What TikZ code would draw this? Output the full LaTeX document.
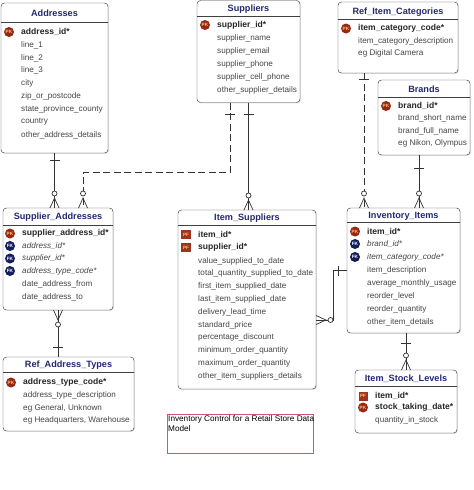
\documentclass[tikz,border=0pt]{standalone}
\usepackage{fontspec}
\setmainfont{Liberation Sans}
\usepackage{tikz}
\usetikzlibrary{calc,shadows}
\definecolor{titleblue}{RGB}{35,40,115}
\definecolor{attrgrey}{RGB}{70,70,70}
\definecolor{pkred}{RGB}{150,40,20}
\definecolor{pktext}{RGB}{255,190,120}
\definecolor{fkblue}{RGB}{20,30,90}
\definecolor{pfred}{RGB}{160,50,30}
\definecolor{notered}{RGB}{200,90,110}

\tikzset{
  relline/.style={draw=black!80,line width=0.6pt},
  pics/onemark/.style={code={\draw[solid,relline] (-5,-#1) -- (5,-#1);}},
  pics/manymark/.style={code={
    \draw[solid,relline] (-4.5,0) -- (0,-10) -- (4.5,0);
    \draw[solid,relline,fill=white] (0,-14.5) circle (2.5);}}
}

\begin{document}
\begin{tikzpicture}[x=0.03cm,y=-0.03cm,
  entity/.style={draw=black!75,rounded corners=3pt,fill=white,inner sep=0pt,outer sep=0pt,anchor=north west,
    drop shadow={shadow xshift=0.8pt,shadow yshift=-0.8pt,opacity=0.25}},
  etitle/.style={font=\fontsize{7.8}{9}\selectfont\bfseries,text=titleblue,inner sep=0pt},
  attr/.style={anchor=west,inner sep=0pt,font=\fontsize{6.95}{8}\selectfont,text=attrgrey},
  keyattr/.style={attr,font=\fontsize{7.3}{8}\selectfont\bfseries,text=black!85},
  fkattr/.style={attr,font=\fontsize{6.95}{8}\selectfont\itshape},
  pkicon/.style={circle,fill=pkred,text=pktext,inner sep=0pt,minimum size=0.3cm,font=\fontsize{4}{4}\selectfont\bfseries},
  fkicon/.style={pkicon,fill=fkblue,text=white},
  pficon/.style={rectangle,fill=pfred,text=pktext,inner sep=0pt,minimum size=0.27cm,font=\fontsize{4}{4}\selectfont\bfseries},
  divline/.style={draw=black!75,line width=0.5pt}]

\useasboundingbox (0,0) rectangle (474,490);

\node[entity,minimum width=3.21cm,minimum height=4.5cm] (addr) at (1,3) {};
\node[etitle] (addr-t) at (54.5,13) {Addresses};
\draw[divline] (1,22) -- (108,22);
\node[pkicon] (addr-k1) at (9,32) {PK};
\node[keyattr] (addr-1) at (21,32) {address\_id*};
\node[attr] (addr-2) at (21,45) {line\_1};
\node[attr] (addr-3) at (21,58) {line\_2};
\node[attr] (addr-4) at (21,70.5) {line\_3};
\node[attr] (addr-5) at (21,83.5) {city};
\node[attr] (addr-6) at (21,96.5) {zip\_or\_postcode};
\node[attr] (addr-7) at (21,109.5) {state\_province\_county};
\node[attr] (addr-8) at (21,122) {country};
\node[attr] (addr-9) at (21,135) {other\_address\_details};

\node[entity,minimum width=3.09cm,minimum height=3.06cm] (sup) at (197,0.5) {};
\node[etitle] (sup-t) at (248.5,9) {Suppliers};
\draw[divline] (197,16) -- (300,16);
\node[pkicon] (sup-k1) at (205,25) {PK};
\node[keyattr] (sup-1) at (217,25) {supplier\_id*};
\node[attr] (sup-2) at (217,38) {supplier\_name};
\node[attr] (sup-3) at (217,51) {supplier\_email};
\node[attr] (sup-4) at (217,64) {supplier\_phone};
\node[attr] (sup-5) at (217,77) {supplier\_cell\_phone};
\node[attr] (sup-6) at (217,90) {other\_supplier\_details};

\node[entity,minimum width=3.6cm,minimum height=2.13cm] (ric) at (338,2) {};
\node[etitle] (ric-t) at (398,12) {Ref\_Item\_Categories};
\draw[divline] (338,19.5) -- (458,19.5);
\node[pkicon] (ric-k1) at (346,28.5) {PK};
\node[keyattr] (ric-1) at (358,28.5) {item\_category\_code*};
\node[attr] (ric-2) at (358,41) {item\_category\_description};
\node[attr] (ric-3) at (358,53.5) {eg Digital Camera};

\node[entity,minimum width=2.76cm,minimum height=2.25cm] (brands) at (378,80) {};
\node[etitle] (brands-t) at (424,89) {Brands};
\draw[divline] (378,97) -- (470,97);
\node[pkicon] (brands-k1) at (386,106) {PK};
\node[keyattr] (brands-1) at (398,106) {brand\_id*};
\node[attr] (brands-2) at (398,118.5) {brand\_short\_name};
\node[attr] (brands-3) at (398,131) {brand\_full\_name};
\node[attr] (brands-4) at (398,143.5) {eg Nikon, Olympus};

\node[entity,minimum width=3.3cm,minimum height=3.06cm] (saddr) at (3,208) {};
\node[etitle] (saddr-t) at (58,217) {Supplier\_Addresses};
\draw[divline] (3,225) -- (113,225);
\node[pkicon] (saddr-k1) at (10,233.5) {PK};
\node[fkicon] (saddr-k2) at (10,246) {FK};
\node[fkicon] (saddr-k3) at (10,258.5) {FK};
\node[fkicon] (saddr-k4) at (10,271) {FK};
\node[keyattr] (saddr-1) at (22,233.5) {supplier\_address\_id*};
\node[fkattr] (saddr-2) at (22,246) {address\_id*};
\node[fkattr] (saddr-3) at (22,258.5) {supplier\_id*};
\node[fkattr] (saddr-4) at (22,271) {address\_type\_code*};
\node[attr] (saddr-5) at (22,284) {date\_address\_from};
\node[attr] (saddr-6) at (22,297) {date\_address\_to};

\node[entity,minimum width=4.14cm,minimum height=5.37cm] (isup) at (178,210) {};
\node[etitle] (isup-t) at (247,218) {Item\_Suppliers};
\draw[divline] (178,225.5) -- (316,225.5);
\node[pficon] (isup-k1) at (186,234.5) {PF};
\node[pficon] (isup-k2) at (186,247.5) {PF};
\node[keyattr] (isup-1) at (198,234.5) {item\_id*};
\node[keyattr] (isup-2) at (198,247.5) {supplier\_id*};
\node[attr] (isup-3) at (198,261) {value\_supplied\_to\_date};
\node[attr] (isup-4) at (198,273.5) {total\_quantity\_supplied\_to\_date};
\node[attr] (isup-5) at (198,286.5) {first\_item\_supplied\_date};
\node[attr] (isup-6) at (198,299) {last\_item\_supplied\_date};
\node[attr] (isup-7) at (198,312) {delivery\_lead\_time};
\node[attr] (isup-8) at (198,325) {standard\_price};
\node[attr] (isup-9) at (198,337.5) {percentage\_discount};
\node[attr] (isup-10) at (198,350.5) {minimum\_order\_quantity};
\node[attr] (isup-11) at (198,363) {maximum\_order\_quantity};
\node[attr] (isup-12) at (198,376) {other\_item\_suppliers\_details};

\node[entity,minimum width=3.39cm,minimum height=3.75cm] (inv) at (347,208) {};
\node[etitle] (inv-t) at (403.5,216) {Inventory\_Items};
\draw[divline] (347,222.5) -- (460,222.5);
\node[pkicon] (inv-k1) at (355,231.5) {PK};
\node[fkicon] (inv-k2) at (355,244) {FK};
\node[fkicon] (inv-k3) at (355,257) {FK};
\node[keyattr] (inv-1) at (367,231.5) {item\_id*};
\node[fkattr] (inv-2) at (367,244) {brand\_id*};
\node[fkattr] (inv-3) at (367,257) {item\_category\_code*};
\node[attr] (inv-4) at (367,270) {item\_description};
\node[attr] (inv-5) at (367,283) {average\_monthly\_usage};
\node[attr] (inv-6) at (367,296) {reorder\_level};
\node[attr] (inv-7) at (367,309) {reorder\_quantity};
\node[attr] (inv-8) at (367,322) {other\_item\_details};

\node[entity,minimum width=3.93cm,minimum height=2.22cm] (rat) at (3,357) {};
\node[etitle] (rat-t) at (68.5,365) {Ref\_Address\_Types};
\draw[divline] (3,372.5) -- (134,372.5);
\node[pkicon] (rat-k1) at (11,382.5) {PK};
\node[keyattr] (rat-1) at (23,382.5) {address\_type\_code*};
\node[attr] (rat-2) at (23,395) {address\_type\_description};
\node[attr] (rat-3) at (23,408) {eg General, Unknown};
\node[attr] (rat-4) at (23,420.5) {eg Headquarters, Warehouse};

\node[entity,minimum width=3.06cm,minimum height=1.89cm] (isl) at (355,370) {};
\node[etitle] (isl-t) at (406,378.5) {Item\_Stock\_Levels};
\draw[divline] (355,386) -- (457,386);
\node[pficon] (isl-k1) at (363,396) {PF};
\node[pkicon] (isl-k2) at (363,407.5) {PK};
\node[keyattr] (isl-1) at (375,396) {item\_id*};
\node[keyattr] (isl-2) at (375,407.5) {stock\_taking\_date*};
\node[attr] (isl-3) at (375,420) {quantity\_in\_stock};

\node[draw=notered,line width=0.6pt,minimum width=4.38cm,minimum height=1.17cm,inner sep=0pt,anchor=north west] (note) at (167,414) {};
\node[anchor=north west,inner sep=0pt,align=left,font=\fontsize{7}{8.5}\selectfont,text=black] (note-t) at (168,415.5) {Inventory Control for a Retail Store Data\\Model};

\coordinate (supx) at ($(sup.south)+(-18.5,0)$);
\coordinate (saddrx) at ($(saddr.north)+(25,0)$);
\coordinate (ricx) at ($(ric.south)+(-34,0)$);
\coordinate (brx) at ($(brands.south)+(-5,0)$);
\coordinate (isupx) at ($(isup.east)+(0,20.5)$);

\draw[relline] (addr.south) pic[rotate=180]{onemark=7} -- (addr.south |- saddr.north) pic{manymark};
\draw[relline,dashed,dash pattern=on 6pt off 3pt] (supx) pic[rotate=180]{onemark=12} -- ++(0,70) -| (saddrx) pic{manymark};
\draw[relline] (sup.south) pic[rotate=180]{onemark=12} -- (sup.south |- isup.north) pic{manymark};
\draw[relline,dashed,dash pattern=on 6pt off 3pt] (ricx) pic[rotate=180]{onemark=6} -- (ricx |- inv.north) pic{manymark};
\draw[relline] (brx) pic[rotate=180]{onemark=13} -- (brx |- inv.north) pic{manymark};
\draw[relline] (inv.west) pic[rotate=90]{onemark=9} -- ++(-14,0) |- (isupx) pic[rotate=-90]{manymark};
\draw[relline] (isl.north |- inv.south) pic[rotate=180]{onemark=10} -- (isl.north) pic{manymark};
\draw[relline] (saddr.south) pic[rotate=180]{manymark} -- (saddr.south |- rat.north) pic{onemark=10};
\end{tikzpicture}
\end{document}
